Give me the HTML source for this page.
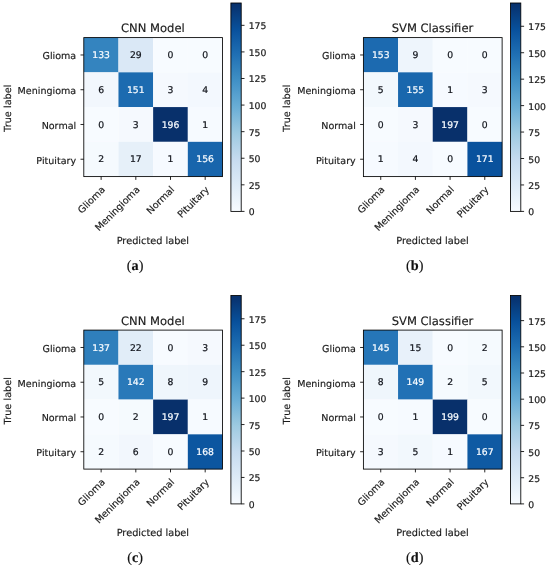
<!DOCTYPE html>
<html lang="en"><head><meta charset="utf-8"><title>Confusion matrices</title>
<style>
html,body{margin:0;padding:0;background:#fff;}
body{width:550px;height:567px;overflow:hidden;}
svg{display:block;}
text{font-family:"DejaVu Sans","Liberation Sans",sans-serif;fill:#1a1a1a;text-rendering:geometricPrecision;stroke:#1a1a1a;stroke-width:0.15px;}
.t{font-size:9.55px}
.ti{font-size:11.55px}
.n{font-size:9.25px;stroke-width:0.22px}
.al{font-size:9.75px}
.cap{font-family:"Liberation Serif","DejaVu Serif",serif;font-size:14.2px;fill:#111;stroke:#111;stroke-width:0.15px}
.ln{stroke:#000;stroke-width:0.85;fill:none}
</style></head><body>
<svg width="550" height="567" viewBox="0 0 550 567">
<defs><linearGradient id="blues" x1="0" y1="1" x2="0" y2="0">
<stop offset="0.0000" stop-color="#f7fbff"/>
<stop offset="0.0312" stop-color="#f1f7fd"/>
<stop offset="0.0625" stop-color="#eaf3fb"/>
<stop offset="0.0938" stop-color="#e4eff9"/>
<stop offset="0.1250" stop-color="#deebf7"/>
<stop offset="0.1562" stop-color="#d8e7f5"/>
<stop offset="0.1875" stop-color="#d2e3f3"/>
<stop offset="0.2188" stop-color="#ccdff1"/>
<stop offset="0.2500" stop-color="#c6dbef"/>
<stop offset="0.2812" stop-color="#bcd7eb"/>
<stop offset="0.3125" stop-color="#b2d2e8"/>
<stop offset="0.3438" stop-color="#a8cee4"/>
<stop offset="0.3750" stop-color="#9dcae1"/>
<stop offset="0.4062" stop-color="#91c3de"/>
<stop offset="0.4375" stop-color="#84bcdb"/>
<stop offset="0.4688" stop-color="#77b5d9"/>
<stop offset="0.5000" stop-color="#6aaed6"/>
<stop offset="0.5312" stop-color="#60a7d2"/>
<stop offset="0.5625" stop-color="#56a0ce"/>
<stop offset="0.5938" stop-color="#4b98ca"/>
<stop offset="0.6250" stop-color="#4191c6"/>
<stop offset="0.6562" stop-color="#3989c1"/>
<stop offset="0.6875" stop-color="#3181bd"/>
<stop offset="0.7188" stop-color="#2979b9"/>
<stop offset="0.7500" stop-color="#2070b4"/>
<stop offset="0.7812" stop-color="#1a68ae"/>
<stop offset="0.8125" stop-color="#1460a8"/>
<stop offset="0.8438" stop-color="#0e58a2"/>
<stop offset="0.8750" stop-color="#08509b"/>
<stop offset="0.9062" stop-color="#08488e"/>
<stop offset="0.9375" stop-color="#084082"/>
<stop offset="0.9688" stop-color="#083776"/>
<stop offset="1.0000" stop-color="#08306b"/>
</linearGradient></defs>
<rect x="0" y="0" width="550" height="567" fill="#ffffff"/>
<g transform="translate(0.00,0.00)">
<rect x="83.78" y="37.58" width="34.72" height="34.79" fill="#3484bf"/>
<rect x="118.46" y="37.58" width="34.72" height="34.79" fill="#dae8f6"/>
<rect x="153.14" y="37.58" width="34.72" height="34.79" fill="#f7fbff"/>
<rect x="187.82" y="37.58" width="34.72" height="34.79" fill="#f7fbff"/>
<rect x="83.78" y="72.33" width="34.72" height="34.79" fill="#f2f7fd"/>
<rect x="118.46" y="72.33" width="34.72" height="34.79" fill="#1c6bb0"/>
<rect x="153.14" y="72.33" width="34.72" height="34.79" fill="#f5f9fe"/>
<rect x="187.82" y="72.33" width="34.72" height="34.79" fill="#f3f8fe"/>
<rect x="83.78" y="107.08" width="34.72" height="34.79" fill="#f7fbff"/>
<rect x="118.46" y="107.08" width="34.72" height="34.79" fill="#f5f9fe"/>
<rect x="153.14" y="107.08" width="34.72" height="34.79" fill="#08306b"/>
<rect x="187.82" y="107.08" width="34.72" height="34.79" fill="#f6faff"/>
<rect x="83.78" y="141.83" width="34.72" height="34.79" fill="#f5fafe"/>
<rect x="118.46" y="141.83" width="34.72" height="34.79" fill="#e6f0f9"/>
<rect x="153.14" y="141.83" width="34.72" height="34.79" fill="#f6faff"/>
<rect x="187.82" y="141.83" width="34.72" height="34.79" fill="#1865ac"/>
<text class="n" x="101.14" y="58.18" text-anchor="middle" style="fill:#f7fbff;stroke:#f7fbff">133</text>
<text class="n" x="135.82" y="58.18" text-anchor="middle" style="fill:#10131a;stroke:#10131a">29</text>
<text class="n" x="170.50" y="58.18" text-anchor="middle" style="fill:#10131a;stroke:#10131a">0</text>
<text class="n" x="205.18" y="58.18" text-anchor="middle" style="fill:#10131a;stroke:#10131a">0</text>
<text class="n" x="101.14" y="92.92" text-anchor="middle" style="fill:#10131a;stroke:#10131a">6</text>
<text class="n" x="135.82" y="92.92" text-anchor="middle" style="fill:#f7fbff;stroke:#f7fbff">151</text>
<text class="n" x="170.50" y="92.92" text-anchor="middle" style="fill:#10131a;stroke:#10131a">3</text>
<text class="n" x="205.18" y="92.92" text-anchor="middle" style="fill:#10131a;stroke:#10131a">4</text>
<text class="n" x="101.14" y="127.67" text-anchor="middle" style="fill:#10131a;stroke:#10131a">0</text>
<text class="n" x="135.82" y="127.67" text-anchor="middle" style="fill:#10131a;stroke:#10131a">3</text>
<text class="n" x="170.50" y="127.67" text-anchor="middle" style="fill:#f7fbff;stroke:#f7fbff">196</text>
<text class="n" x="205.18" y="127.67" text-anchor="middle" style="fill:#10131a;stroke:#10131a">1</text>
<text class="n" x="101.14" y="162.42" text-anchor="middle" style="fill:#10131a;stroke:#10131a">2</text>
<text class="n" x="135.82" y="162.42" text-anchor="middle" style="fill:#10131a;stroke:#10131a">17</text>
<text class="n" x="170.50" y="162.42" text-anchor="middle" style="fill:#10131a;stroke:#10131a">1</text>
<text class="n" x="205.18" y="162.42" text-anchor="middle" style="fill:#f7fbff;stroke:#f7fbff">156</text>
<rect class="ln" x="83.80" y="37.60" width="138.72" height="139.00"/>
<path class="ln" d="M80.50 54.98h3.30"/>
<path class="ln" d="M101.14 176.60v3.30"/>
<text class="t" x="76.20" y="59.38" text-anchor="end">Glioma</text>
<text class="t" transform="translate(105.64,190.20) rotate(-45)" text-anchor="end">Glioma</text>
<path class="ln" d="M80.50 89.72h3.30"/>
<path class="ln" d="M135.82 176.60v3.30"/>
<text class="t" x="76.20" y="94.12" text-anchor="end">Meningioma</text>
<text class="t" transform="translate(140.32,190.20) rotate(-45)" text-anchor="end">Meningioma</text>
<path class="ln" d="M80.50 124.47h3.30"/>
<path class="ln" d="M170.50 176.60v3.30"/>
<text class="t" x="76.20" y="128.88" text-anchor="end">Normal</text>
<text class="t" transform="translate(175.00,190.20) rotate(-45)" text-anchor="end">Normal</text>
<path class="ln" d="M80.50 159.22h3.30"/>
<path class="ln" d="M205.18 176.60v3.30"/>
<text class="t" x="76.20" y="163.62" text-anchor="end">Pituitary</text>
<text class="t" transform="translate(209.68,190.20) rotate(-45)" text-anchor="end">Pituitary</text>
<text class="ti" x="152.86" y="32.00" text-anchor="middle">CNN Model</text>
<text class="al" x="152.86" y="244.00" text-anchor="middle">Predicted label</text>
<text class="al" transform="translate(11.10,108.20) rotate(-90)" text-anchor="middle">True label</text>
<rect x="230.90" y="3.00" width="10.30" height="208.40" fill="url(#blues)"/>
<rect class="ln" x="230.90" y="3.00" width="10.30" height="208.40"/>
<path class="ln" d="M241.20 211.40h3.30"/>
<text class="n" x="248.70" y="215.40">0</text>
<path class="ln" d="M241.20 184.82h3.30"/>
<text class="n" x="248.70" y="188.82">25</text>
<path class="ln" d="M241.20 158.24h3.30"/>
<text class="n" x="248.70" y="162.24">50</text>
<path class="ln" d="M241.20 131.66h3.30"/>
<text class="n" x="248.70" y="135.66">75</text>
<path class="ln" d="M241.20 105.07h3.30"/>
<text class="n" x="248.70" y="109.07">100</text>
<path class="ln" d="M241.20 78.49h3.30"/>
<text class="n" x="248.70" y="82.49">125</text>
<path class="ln" d="M241.20 51.91h3.30"/>
<text class="n" x="248.70" y="55.91">150</text>
<path class="ln" d="M241.20 25.33h3.30"/>
<text class="n" x="248.70" y="29.33">175</text>
<text class="cap" x="135.10" y="269.90" text-anchor="middle">(<tspan font-weight="bold">a</tspan>)</text>
</g>
<g transform="translate(279.60,0.00)">
<rect x="83.78" y="37.58" width="34.72" height="34.79" fill="#1c6ab0"/>
<rect x="118.46" y="37.58" width="34.72" height="34.79" fill="#eef5fc"/>
<rect x="153.14" y="37.58" width="34.72" height="34.79" fill="#f7fbff"/>
<rect x="187.82" y="37.58" width="34.72" height="34.79" fill="#f7fbff"/>
<rect x="83.78" y="72.33" width="34.72" height="34.79" fill="#f2f8fd"/>
<rect x="118.46" y="72.33" width="34.72" height="34.79" fill="#1967ad"/>
<rect x="153.14" y="72.33" width="34.72" height="34.79" fill="#f6faff"/>
<rect x="187.82" y="72.33" width="34.72" height="34.79" fill="#f5f9fe"/>
<rect x="83.78" y="107.08" width="34.72" height="34.79" fill="#f7fbff"/>
<rect x="118.46" y="107.08" width="34.72" height="34.79" fill="#f5f9fe"/>
<rect x="153.14" y="107.08" width="34.72" height="34.79" fill="#08306b"/>
<rect x="187.82" y="107.08" width="34.72" height="34.79" fill="#f7fbff"/>
<rect x="83.78" y="141.83" width="34.72" height="34.79" fill="#f6faff"/>
<rect x="118.46" y="141.83" width="34.72" height="34.79" fill="#f3f8fe"/>
<rect x="153.14" y="141.83" width="34.72" height="34.79" fill="#f7fbff"/>
<rect x="187.82" y="141.83" width="34.72" height="34.79" fill="#09529d"/>
<text class="n" x="101.14" y="58.18" text-anchor="middle" style="fill:#f7fbff;stroke:#f7fbff">153</text>
<text class="n" x="135.82" y="58.18" text-anchor="middle" style="fill:#10131a;stroke:#10131a">9</text>
<text class="n" x="170.50" y="58.18" text-anchor="middle" style="fill:#10131a;stroke:#10131a">0</text>
<text class="n" x="205.18" y="58.18" text-anchor="middle" style="fill:#10131a;stroke:#10131a">0</text>
<text class="n" x="101.14" y="92.92" text-anchor="middle" style="fill:#10131a;stroke:#10131a">5</text>
<text class="n" x="135.82" y="92.92" text-anchor="middle" style="fill:#f7fbff;stroke:#f7fbff">155</text>
<text class="n" x="170.50" y="92.92" text-anchor="middle" style="fill:#10131a;stroke:#10131a">1</text>
<text class="n" x="205.18" y="92.92" text-anchor="middle" style="fill:#10131a;stroke:#10131a">3</text>
<text class="n" x="101.14" y="127.67" text-anchor="middle" style="fill:#10131a;stroke:#10131a">0</text>
<text class="n" x="135.82" y="127.67" text-anchor="middle" style="fill:#10131a;stroke:#10131a">3</text>
<text class="n" x="170.50" y="127.67" text-anchor="middle" style="fill:#f7fbff;stroke:#f7fbff">197</text>
<text class="n" x="205.18" y="127.67" text-anchor="middle" style="fill:#10131a;stroke:#10131a">0</text>
<text class="n" x="101.14" y="162.42" text-anchor="middle" style="fill:#10131a;stroke:#10131a">1</text>
<text class="n" x="135.82" y="162.42" text-anchor="middle" style="fill:#10131a;stroke:#10131a">4</text>
<text class="n" x="170.50" y="162.42" text-anchor="middle" style="fill:#10131a;stroke:#10131a">0</text>
<text class="n" x="205.18" y="162.42" text-anchor="middle" style="fill:#f7fbff;stroke:#f7fbff">171</text>
<rect class="ln" x="83.80" y="37.60" width="138.72" height="139.00"/>
<path class="ln" d="M80.50 54.98h3.30"/>
<path class="ln" d="M101.14 176.60v3.30"/>
<text class="t" x="76.20" y="59.38" text-anchor="end">Glioma</text>
<text class="t" transform="translate(105.64,190.20) rotate(-45)" text-anchor="end">Glioma</text>
<path class="ln" d="M80.50 89.72h3.30"/>
<path class="ln" d="M135.82 176.60v3.30"/>
<text class="t" x="76.20" y="94.12" text-anchor="end">Meningioma</text>
<text class="t" transform="translate(140.32,190.20) rotate(-45)" text-anchor="end">Meningioma</text>
<path class="ln" d="M80.50 124.47h3.30"/>
<path class="ln" d="M170.50 176.60v3.30"/>
<text class="t" x="76.20" y="128.88" text-anchor="end">Normal</text>
<text class="t" transform="translate(175.00,190.20) rotate(-45)" text-anchor="end">Normal</text>
<path class="ln" d="M80.50 159.22h3.30"/>
<path class="ln" d="M205.18 176.60v3.30"/>
<text class="t" x="76.20" y="163.62" text-anchor="end">Pituitary</text>
<text class="t" transform="translate(209.68,190.20) rotate(-45)" text-anchor="end">Pituitary</text>
<text class="ti" x="152.86" y="32.00" text-anchor="middle">SVM Classifier</text>
<text class="al" x="152.86" y="244.00" text-anchor="middle">Predicted label</text>
<text class="al" transform="translate(10.60,108.20) rotate(-90)" text-anchor="middle">True label</text>
<rect x="230.90" y="3.00" width="10.30" height="208.40" fill="url(#blues)"/>
<rect class="ln" x="230.90" y="3.00" width="10.30" height="208.40"/>
<path class="ln" d="M241.20 211.40h3.30"/>
<text class="n" x="248.70" y="215.40">0</text>
<path class="ln" d="M241.20 184.95h3.30"/>
<text class="n" x="248.70" y="188.95">25</text>
<path class="ln" d="M241.20 158.51h3.30"/>
<text class="n" x="248.70" y="162.51">50</text>
<path class="ln" d="M241.20 132.06h3.30"/>
<text class="n" x="248.70" y="136.06">75</text>
<path class="ln" d="M241.20 105.61h3.30"/>
<text class="n" x="248.70" y="109.61">100</text>
<path class="ln" d="M241.20 79.17h3.30"/>
<text class="n" x="248.70" y="83.17">125</text>
<path class="ln" d="M241.20 52.72h3.30"/>
<text class="n" x="248.70" y="56.72">150</text>
<path class="ln" d="M241.20 26.27h3.30"/>
<text class="n" x="248.70" y="30.27">175</text>
<text class="cap" x="135.10" y="269.90" text-anchor="middle">(<tspan font-weight="bold">b</tspan>)</text>
</g>
<g transform="translate(0.00,292.50)">
<rect x="83.78" y="37.58" width="34.72" height="34.79" fill="#2f7fbc"/>
<rect x="118.46" y="37.58" width="34.72" height="34.79" fill="#e1edf8"/>
<rect x="153.14" y="37.58" width="34.72" height="34.79" fill="#f7fbff"/>
<rect x="187.82" y="37.58" width="34.72" height="34.79" fill="#f5f9fe"/>
<rect x="83.78" y="72.33" width="34.72" height="34.79" fill="#f2f8fd"/>
<rect x="118.46" y="72.33" width="34.72" height="34.79" fill="#2979b9"/>
<rect x="153.14" y="72.33" width="34.72" height="34.79" fill="#eff6fc"/>
<rect x="187.82" y="72.33" width="34.72" height="34.79" fill="#eef5fc"/>
<rect x="83.78" y="107.08" width="34.72" height="34.79" fill="#f7fbff"/>
<rect x="118.46" y="107.08" width="34.72" height="34.79" fill="#f5fafe"/>
<rect x="153.14" y="107.08" width="34.72" height="34.79" fill="#08306b"/>
<rect x="187.82" y="107.08" width="34.72" height="34.79" fill="#f6faff"/>
<rect x="83.78" y="141.83" width="34.72" height="34.79" fill="#f5fafe"/>
<rect x="118.46" y="141.83" width="34.72" height="34.79" fill="#f2f7fd"/>
<rect x="153.14" y="141.83" width="34.72" height="34.79" fill="#f7fbff"/>
<rect x="187.82" y="141.83" width="34.72" height="34.79" fill="#0c56a0"/>
<text class="n" x="101.14" y="58.18" text-anchor="middle" style="fill:#f7fbff;stroke:#f7fbff">137</text>
<text class="n" x="135.82" y="58.18" text-anchor="middle" style="fill:#10131a;stroke:#10131a">22</text>
<text class="n" x="170.50" y="58.18" text-anchor="middle" style="fill:#10131a;stroke:#10131a">0</text>
<text class="n" x="205.18" y="58.18" text-anchor="middle" style="fill:#10131a;stroke:#10131a">3</text>
<text class="n" x="101.14" y="92.92" text-anchor="middle" style="fill:#10131a;stroke:#10131a">5</text>
<text class="n" x="135.82" y="92.92" text-anchor="middle" style="fill:#f7fbff;stroke:#f7fbff">142</text>
<text class="n" x="170.50" y="92.92" text-anchor="middle" style="fill:#10131a;stroke:#10131a">8</text>
<text class="n" x="205.18" y="92.92" text-anchor="middle" style="fill:#10131a;stroke:#10131a">9</text>
<text class="n" x="101.14" y="127.67" text-anchor="middle" style="fill:#10131a;stroke:#10131a">0</text>
<text class="n" x="135.82" y="127.67" text-anchor="middle" style="fill:#10131a;stroke:#10131a">2</text>
<text class="n" x="170.50" y="127.67" text-anchor="middle" style="fill:#f7fbff;stroke:#f7fbff">197</text>
<text class="n" x="205.18" y="127.67" text-anchor="middle" style="fill:#10131a;stroke:#10131a">1</text>
<text class="n" x="101.14" y="162.42" text-anchor="middle" style="fill:#10131a;stroke:#10131a">2</text>
<text class="n" x="135.82" y="162.42" text-anchor="middle" style="fill:#10131a;stroke:#10131a">6</text>
<text class="n" x="170.50" y="162.42" text-anchor="middle" style="fill:#10131a;stroke:#10131a">0</text>
<text class="n" x="205.18" y="162.42" text-anchor="middle" style="fill:#f7fbff;stroke:#f7fbff">168</text>
<rect class="ln" x="83.80" y="37.60" width="138.72" height="139.00"/>
<path class="ln" d="M80.50 54.98h3.30"/>
<path class="ln" d="M101.14 176.60v3.30"/>
<text class="t" x="76.20" y="59.38" text-anchor="end">Glioma</text>
<text class="t" transform="translate(105.64,190.20) rotate(-45)" text-anchor="end">Glioma</text>
<path class="ln" d="M80.50 89.72h3.30"/>
<path class="ln" d="M135.82 176.60v3.30"/>
<text class="t" x="76.20" y="94.12" text-anchor="end">Meningioma</text>
<text class="t" transform="translate(140.32,190.20) rotate(-45)" text-anchor="end">Meningioma</text>
<path class="ln" d="M80.50 124.47h3.30"/>
<path class="ln" d="M170.50 176.60v3.30"/>
<text class="t" x="76.20" y="128.88" text-anchor="end">Normal</text>
<text class="t" transform="translate(175.00,190.20) rotate(-45)" text-anchor="end">Normal</text>
<path class="ln" d="M80.50 159.22h3.30"/>
<path class="ln" d="M205.18 176.60v3.30"/>
<text class="t" x="76.20" y="163.62" text-anchor="end">Pituitary</text>
<text class="t" transform="translate(209.68,190.20) rotate(-45)" text-anchor="end">Pituitary</text>
<text class="ti" x="152.86" y="32.00" text-anchor="middle">CNN Model</text>
<text class="al" x="152.86" y="243.50" text-anchor="middle">Predicted label</text>
<text class="al" transform="translate(11.10,108.20) rotate(-90)" text-anchor="middle">True label</text>
<rect x="230.90" y="3.00" width="10.30" height="208.40" fill="url(#blues)"/>
<rect class="ln" x="230.90" y="3.00" width="10.30" height="208.40"/>
<path class="ln" d="M241.20 211.40h3.30"/>
<text class="n" x="248.70" y="215.40">0</text>
<path class="ln" d="M241.20 184.95h3.30"/>
<text class="n" x="248.70" y="188.95">25</text>
<path class="ln" d="M241.20 158.51h3.30"/>
<text class="n" x="248.70" y="162.51">50</text>
<path class="ln" d="M241.20 132.06h3.30"/>
<text class="n" x="248.70" y="136.06">75</text>
<path class="ln" d="M241.20 105.61h3.30"/>
<text class="n" x="248.70" y="109.61">100</text>
<path class="ln" d="M241.20 79.17h3.30"/>
<text class="n" x="248.70" y="83.17">125</text>
<path class="ln" d="M241.20 52.72h3.30"/>
<text class="n" x="248.70" y="56.72">150</text>
<path class="ln" d="M241.20 26.27h3.30"/>
<text class="n" x="248.70" y="30.27">175</text>
<text class="cap" x="135.10" y="269.90" text-anchor="middle">(<tspan font-weight="bold">c</tspan>)</text>
</g>
<g transform="translate(279.60,292.50)">
<rect x="83.78" y="37.58" width="34.72" height="34.79" fill="#2676b8"/>
<rect x="118.46" y="37.58" width="34.72" height="34.79" fill="#e8f1fa"/>
<rect x="153.14" y="37.58" width="34.72" height="34.79" fill="#f7fbff"/>
<rect x="187.82" y="37.58" width="34.72" height="34.79" fill="#f5fafe"/>
<rect x="83.78" y="72.33" width="34.72" height="34.79" fill="#eff6fc"/>
<rect x="118.46" y="72.33" width="34.72" height="34.79" fill="#2171b5"/>
<rect x="153.14" y="72.33" width="34.72" height="34.79" fill="#f5fafe"/>
<rect x="187.82" y="72.33" width="34.72" height="34.79" fill="#f2f8fd"/>
<rect x="83.78" y="107.08" width="34.72" height="34.79" fill="#f7fbff"/>
<rect x="118.46" y="107.08" width="34.72" height="34.79" fill="#f6faff"/>
<rect x="153.14" y="107.08" width="34.72" height="34.79" fill="#08306b"/>
<rect x="187.82" y="107.08" width="34.72" height="34.79" fill="#f7fbff"/>
<rect x="83.78" y="141.83" width="34.72" height="34.79" fill="#f5f9fe"/>
<rect x="118.46" y="141.83" width="34.72" height="34.79" fill="#f2f8fd"/>
<rect x="153.14" y="141.83" width="34.72" height="34.79" fill="#f6faff"/>
<rect x="187.82" y="141.83" width="34.72" height="34.79" fill="#0f5aa3"/>
<text class="n" x="101.14" y="58.18" text-anchor="middle" style="fill:#f7fbff;stroke:#f7fbff">145</text>
<text class="n" x="135.82" y="58.18" text-anchor="middle" style="fill:#10131a;stroke:#10131a">15</text>
<text class="n" x="170.50" y="58.18" text-anchor="middle" style="fill:#10131a;stroke:#10131a">0</text>
<text class="n" x="205.18" y="58.18" text-anchor="middle" style="fill:#10131a;stroke:#10131a">2</text>
<text class="n" x="101.14" y="92.92" text-anchor="middle" style="fill:#10131a;stroke:#10131a">8</text>
<text class="n" x="135.82" y="92.92" text-anchor="middle" style="fill:#f7fbff;stroke:#f7fbff">149</text>
<text class="n" x="170.50" y="92.92" text-anchor="middle" style="fill:#10131a;stroke:#10131a">2</text>
<text class="n" x="205.18" y="92.92" text-anchor="middle" style="fill:#10131a;stroke:#10131a">5</text>
<text class="n" x="101.14" y="127.67" text-anchor="middle" style="fill:#10131a;stroke:#10131a">0</text>
<text class="n" x="135.82" y="127.67" text-anchor="middle" style="fill:#10131a;stroke:#10131a">1</text>
<text class="n" x="170.50" y="127.67" text-anchor="middle" style="fill:#f7fbff;stroke:#f7fbff">199</text>
<text class="n" x="205.18" y="127.67" text-anchor="middle" style="fill:#10131a;stroke:#10131a">0</text>
<text class="n" x="101.14" y="162.42" text-anchor="middle" style="fill:#10131a;stroke:#10131a">3</text>
<text class="n" x="135.82" y="162.42" text-anchor="middle" style="fill:#10131a;stroke:#10131a">5</text>
<text class="n" x="170.50" y="162.42" text-anchor="middle" style="fill:#10131a;stroke:#10131a">1</text>
<text class="n" x="205.18" y="162.42" text-anchor="middle" style="fill:#f7fbff;stroke:#f7fbff">167</text>
<rect class="ln" x="83.80" y="37.60" width="138.72" height="139.00"/>
<path class="ln" d="M80.50 54.98h3.30"/>
<path class="ln" d="M101.14 176.60v3.30"/>
<text class="t" x="76.20" y="59.38" text-anchor="end">Glioma</text>
<text class="t" transform="translate(105.64,190.20) rotate(-45)" text-anchor="end">Glioma</text>
<path class="ln" d="M80.50 89.72h3.30"/>
<path class="ln" d="M135.82 176.60v3.30"/>
<text class="t" x="76.20" y="94.12" text-anchor="end">Meningioma</text>
<text class="t" transform="translate(140.32,190.20) rotate(-45)" text-anchor="end">Meningioma</text>
<path class="ln" d="M80.50 124.47h3.30"/>
<path class="ln" d="M170.50 176.60v3.30"/>
<text class="t" x="76.20" y="128.88" text-anchor="end">Normal</text>
<text class="t" transform="translate(175.00,190.20) rotate(-45)" text-anchor="end">Normal</text>
<path class="ln" d="M80.50 159.22h3.30"/>
<path class="ln" d="M205.18 176.60v3.30"/>
<text class="t" x="76.20" y="163.62" text-anchor="end">Pituitary</text>
<text class="t" transform="translate(209.68,190.20) rotate(-45)" text-anchor="end">Pituitary</text>
<text class="ti" x="152.86" y="32.00" text-anchor="middle">SVM Classifier</text>
<text class="al" x="152.86" y="243.50" text-anchor="middle">Predicted label</text>
<text class="al" transform="translate(10.60,108.20) rotate(-90)" text-anchor="middle">True label</text>
<rect x="230.90" y="3.00" width="10.30" height="208.40" fill="url(#blues)"/>
<rect class="ln" x="230.90" y="3.00" width="10.30" height="208.40"/>
<path class="ln" d="M241.20 211.40h3.30"/>
<text class="n" x="248.70" y="215.40">0</text>
<path class="ln" d="M241.20 185.22h3.30"/>
<text class="n" x="248.70" y="189.22">25</text>
<path class="ln" d="M241.20 159.04h3.30"/>
<text class="n" x="248.70" y="163.04">50</text>
<path class="ln" d="M241.20 132.86h3.30"/>
<text class="n" x="248.70" y="136.86">75</text>
<path class="ln" d="M241.20 106.68h3.30"/>
<text class="n" x="248.70" y="110.68">100</text>
<path class="ln" d="M241.20 80.50h3.30"/>
<text class="n" x="248.70" y="84.50">125</text>
<path class="ln" d="M241.20 54.31h3.30"/>
<text class="n" x="248.70" y="58.31">150</text>
<path class="ln" d="M241.20 28.13h3.30"/>
<text class="n" x="248.70" y="32.13">175</text>
<text class="cap" x="135.10" y="269.90" text-anchor="middle">(<tspan font-weight="bold">d</tspan>)</text>
</g>
</svg></body></html>
